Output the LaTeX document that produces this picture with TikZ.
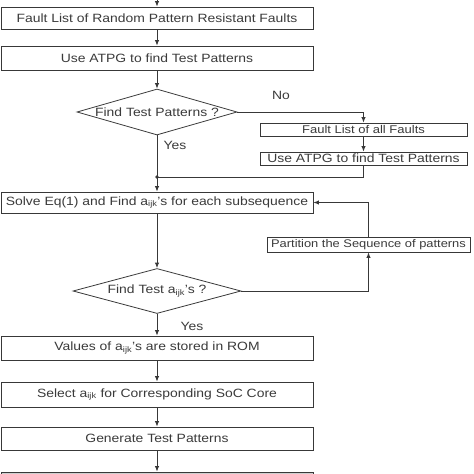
\documentclass[tikz,border=0pt]{standalone}
\usepackage{fontspec}
\setmainfont{Liberation Sans}[FakeStretch=1.16]
\usetikzlibrary{shapes.geometric}
\usetikzlibrary{arrows.meta}
\definecolor{fc-line}{HTML}{383838}
\definecolor{fc-text}{HTML}{3A3A3A}
\definecolor{fc-gray}{HTML}{CFCFCF}
\tikzset{
  flow-box/.style 2 args={
    rectangle,
    draw=fc-line,
    line width=0.8pt,
    inner sep=0pt,
    minimum width=#1,
    minimum height=#2},
  flow-decision/.style 2 args={
    diamond,
    draw=fc-line,
    line width=0.8pt,
    inner sep=0pt,
    minimum width=#1,
    minimum height=#2},
  flow-path/.style={line width=0.9pt, draw=fc-line, ->},
  flow-line/.style={line width=0.9pt, draw=fc-line},
}

\begin{document}
\begin{tikzpicture}[
  x=1pt, y=-1pt, >={Latex[length=5.5pt,width=4.5pt]},
  every node/.style={font=\fontsize{12}{14}\selectfont, text=fc-text}]
  \pgfmathsetmacro{\boxw}{312}
  \useasboundingbox (0,0) rectangle (474,474);
  \clip (0,0) rectangle (474,474);

  % main column
  \coordinate (fc-top) at (157,0);
  \node[flow-box={\boxw pt}{22pt}] (fc-b1) at (157,18) {Fault List of Random Pattern Resistant Faults};
  \node[flow-box={\boxw pt}{24pt}] (fc-b2) at (157,58) {Use ATPG to find Test Patterns};
  \node[flow-decision={160pt}{46pt}] (fc-d1) at (157,112) {\makebox[0pt]{Find Test Patterns ?}};
  \coordinate (fc-j) at (157,177);
  \node[flow-box={\boxw pt}{21pt}] (fc-b5) at (157,202.5) {Solve Eq(1) and Find a\textsubscript{ijk}'s for each subsequence};
  \node[flow-decision={168pt}{45pt}] (fc-d2) at (157,291) {\makebox[0pt]{Find Test a\textsubscript{ijk}'s ?}};
  \node[flow-box={\boxw pt}{24pt}] (fc-b6) at (157,348) {Values of a\textsubscript{ijk}'s are stored in ROM};
  \node[flow-box={\boxw pt}{25pt}] (fc-b7) at (157,394.5) {Select a\textsubscript{ijk} for Corresponding SoC Core};
  \node[flow-box={\boxw pt}{23pt}] (fc-b8) at (157,438.5) {Generate Test Patterns};
  \node[flow-box={\boxw pt}{24pt}, fill=fc-gray] (fc-b9) at (157,484) {};

  % side branch
  \node[flow-box={207pt}{13pt}, font=\fontsize{11.2}{13}\selectfont] (fc-b3) at (363.5,129.5) {Fault List of all Faults};
  \node[flow-box={207pt}{13pt}] (fc-b4) at (363.5,158.5) {Use ATPG to find Test Patterns};
  \node[flow-box={203pt}{15pt}, font=\fontsize{11.1}{13}\selectfont] (fc-p) at (368.5,244.5) {Partition the Sequence of patterns};

  % labels
  \node (fc-no) at (281,95) {No};
  \node (fc-yes1) at (175,145) {Yes};
  \node (fc-yes2) at (192,326) {Yes};

  % connectors
  \draw[flow-path] (fc-top) -- (fc-b1.north);
  \draw[flow-path] (fc-b1.south) -- (fc-b2.north);
  \draw[flow-path] (fc-b2.south) -- (fc-d1.north);
  \draw[flow-path] (fc-d1.east) -- (fc-b3.north |- fc-d1.east) -- (fc-b3.north);
  \draw[flow-path] (fc-b3.south) -- (fc-b4.north);
  \draw[flow-line] (fc-b4.south) -- (fc-b4.south |- fc-j) -- (fc-j);
  \draw[flow-line] (fc-d1.south) -- (fc-j);
  \fill[fc-line] (fc-j) circle (1.8pt);
  \draw[flow-path] (fc-j) -- (fc-b5.north);
  \draw[flow-path] (fc-b5.south) -- (fc-d2.north);
  \draw[flow-path] (fc-d2.east) -- (fc-p.south |- fc-d2.east) -- (fc-p.south);
  \draw[flow-path] (fc-p.north) -- (fc-p.north |- fc-b5.east) -- (fc-b5.east);
  \draw[flow-path] (fc-d2.south) -- (fc-b6.north);
  \draw[flow-path] (fc-b6.south) -- (fc-b7.north);
  \draw[flow-path] (fc-b7.south) -- (fc-b8.north);
  \draw[flow-path] (fc-b8.south) -- (fc-b9.north);
\end{tikzpicture}
\end{document}
